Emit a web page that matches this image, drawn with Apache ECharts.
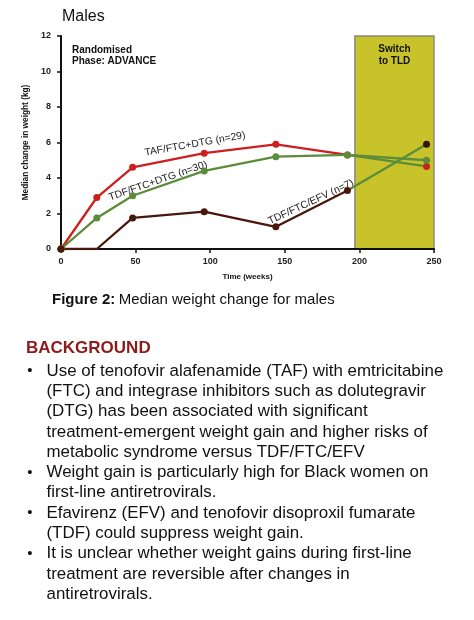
<!DOCTYPE html>
<html>
<head>
<meta charset="utf-8">
<script src="https://cdn.jsdelivr.net/npm/echarts@6/dist/echarts.min.js"></script>
<style>
  html, body { margin: 0; padding: 0; background: #fff; }
  #main { width: 474px; height: 620px; }
</style>
</head>
<body>
<div id="main"></div>
<script>
// weeks on treatment and median change (kg) during the randomised phase
var weeks = [0, 24, 48, 96, 144, 192];
var tafFtcDtg = [0, 2.9, 4.6, 5.4, 5.9, 5.3];
var tdfFtcDtg = [0, 1.75, 3.0, 4.4, 5.2, 5.3];
var tdfFtcEfv = [0, 0, 1.75, 2.1, 1.25, 3.3];

// after the switch to TLD
var switchWeeks = [192, 245];
var tafFtcDtgTld = [5.3, 4.65];
var tdfFtcDtgTld = [5.3, 5.0];
var tdfFtcEfvTld = [3.3, 5.9];

var switchFrom = 197;
var switchTo = 250;

var bullets = [
    'Use of tenofovir alafenamide (TAF) with emtricitabine\n(FTC) and integrase inhibitors such as dolutegravir\n(DTG) has been associated with significant\ntreatment-emergent weight gain and higher risks of\nmetabolic syndrome versus TDF/FTC/EFV',
    'Weight gain is particularly high for Black women on\nfirst-line antiretrovirals.',
    'Efavirenz (EFV) and tenofovir disoproxil fumarate\n(TDF) could suppress weight gain.',
    'It is unclear whether weight gains during first-line\ntreatment are reversible after changes in\nantiretrovirals.'
];

var RED = '#cc1f1f';
var GREEN = '#5b8c3a';
var BROWN = '#4a170c';
var FONT = '"Liberation Sans", Arial, sans-serif';

function pairs(xs, ys) {
    return xs.map(function (x, i) { return [x, ys[i]]; });
}

function seg(ys, endColor) {
    var d = pairs(switchWeeks, ys);
    return [
        {value: d[0], symbol: 'none'},
        {value: d[1], itemStyle: {color: endColor}}
    ];
}

var efvData = pairs(weeks, tdfFtcEfv).map(function (p, i) {
    return i === 1 ? {value: p, symbol: 'none'} : p;
});

var myChart = echarts.init(document.getElementById('main'), null, {renderer: 'canvas'});

var graphics = [
    {type: 'text', left: 62, top: 9, style: {text: 'Males', font: '16px ' + FONT, fill: '#111'}},
    {type: 'text', x: 72, y: 45, style: {text: 'Randomised\nPhase: ADVANCE', font: 'bold 10px ' + FONT, fill: '#111', lineHeight: 11}},
    {type: 'text', x: 195, y: 144, rotation: 10 * Math.PI / 180,
        style: {text: 'TAF/FTC+DTG (n=29)', font: '10.3px ' + FONT, fill: '#1a1a1a', align: 'center', verticalAlign: 'middle'}},
    {type: 'text', x: 158, y: 181, rotation: 19 * Math.PI / 180,
        style: {text: 'TDF/FTC+DTG (n=30)', font: '10.3px ' + FONT, fill: '#1a1a1a', align: 'center', verticalAlign: 'middle'}},
    {type: 'text', x: 311, y: 202, rotation: 25 * Math.PI / 180,
        style: {text: 'TDF/FTC/EFV (n=7)', font: '10.3px ' + FONT, fill: '#1a1a1a', align: 'center', verticalAlign: 'middle'}},
    {type: 'text', x: 52, y: 300,
        style: {
            text: '{b|Figure 2:} {n|Median weight change for males}',
            verticalAlign: 'middle',
            rich: {
                b: {font: 'bold 15px ' + FONT, fill: '#111'},
                n: {font: '15px ' + FONT, fill: '#111'}
            }
        }},
    {type: 'text', x: 26, y: 348,
        style: {text: 'BACKGROUND', font: 'bold 17px ' + FONT, fill: '#8e1b1b', verticalAlign: 'middle'}}
];

var lineH = 20.3;
var row = 0;
bullets.forEach(function (b) {
    var y = 371 + row * lineH;
    graphics.push({type: 'text', x: 30, y: y,
        style: {text: '•', font: '15px ' + FONT, fill: '#111', align: 'center', verticalAlign: 'middle'}});
    graphics.push({type: 'text', x: 46.5, y: y - lineH / 2,
        style: {text: b, font: '16.9px ' + FONT, fill: '#111', lineHeight: lineH}});
    row += b.split('\n').length;
});

var option = {
    animation: false,
    textStyle: {fontFamily: FONT},
    grid: {left: 61, right: 40, top: 36, bottom: 371, containLabel: false},
    xAxis: {
        type: 'value',
        min: 0,
        max: 250,
        interval: 50,
        name: 'Time (weeks)',
        nameLocation: 'middle',
        nameGap: 24,
        nameTextStyle: {fontSize: 8, fontWeight: 'bold', color: '#111'},
        axisLine: {lineStyle: {color: '#111', width: 2}},
        axisTick: {length: 4, lineStyle: {color: '#111', width: 1.5}},
        axisLabel: {fontSize: 9, fontWeight: 'bold', color: '#222', margin: 8},
        splitLine: {show: false}
    },
    yAxis: {
        type: 'value',
        min: 0,
        max: 12,
        interval: 2,
        name: 'Median change in weight (kg)',
        nameLocation: 'middle',
        nameGap: 24,
        nameTextStyle: {fontSize: 8.3, fontWeight: 'bold', color: '#111'},
        axisLine: {show: true, lineStyle: {color: '#111', width: 2}},
        axisTick: {show: true, length: 4, lineStyle: {color: '#111', width: 1.5}},
        axisLabel: {fontSize: 9, fontWeight: 'bold', color: '#222', margin: 10},
        splitLine: {show: false}
    },
    graphic: graphics,
    series: [
        {
            name: 'TAF/FTC+DTG',
            type: 'line',
            data: pairs(weeks, tafFtcDtg),
            symbol: 'circle',
            symbolSize: 7,
            lineStyle: {color: RED, width: 2.3},
            itemStyle: {color: RED},
            markArea: {
                silent: true,
                z: -1,
                itemStyle: {color: '#c8c32b', borderColor: '#8a8a7a', borderWidth: 1.5},
                label: {
                    show: true,
                    position: 'insideTop',
                    distance: 8,
                    formatter: 'Switch\nto TLD',
                    fontSize: 10,
                    fontWeight: 'bold',
                    color: '#111',
                    lineHeight: 12,
                    align: 'center'
                },
                data: [[{xAxis: switchFrom, yAxis: 0}, {xAxis: switchTo, yAxis: 12}]]
            }
        },
        {
            name: 'TDF/FTC+DTG',
            type: 'line',
            data: pairs(weeks, tdfFtcDtg),
            symbol: 'circle',
            symbolSize: 7,
            lineStyle: {color: GREEN, width: 2.3},
            itemStyle: {color: GREEN}
        },
        {
            name: 'TDF/FTC/EFV',
            type: 'line',
            data: efvData,
            symbol: 'circle',
            symbolSize: 7,
            lineStyle: {color: BROWN, width: 2.3},
            itemStyle: {color: BROWN}
        },
        {
            type: 'line',
            data: seg(tdfFtcEfvTld, '#3a1208'),
            symbol: 'circle',
            symbolSize: 7,
            lineStyle: {color: GREEN, width: 2.3}
        },
        {
            type: 'line',
            data: seg(tafFtcDtgTld, RED),
            symbol: 'circle',
            symbolSize: 7,
            lineStyle: {color: GREEN, width: 2.3}
        },
        {
            type: 'line',
            data: seg(tdfFtcDtgTld, GREEN),
            symbol: 'circle',
            symbolSize: 7,
            lineStyle: {color: GREEN, width: 2.3}
        }
    ]
};

myChart.setOption(option);
</script>
</body>
</html>
